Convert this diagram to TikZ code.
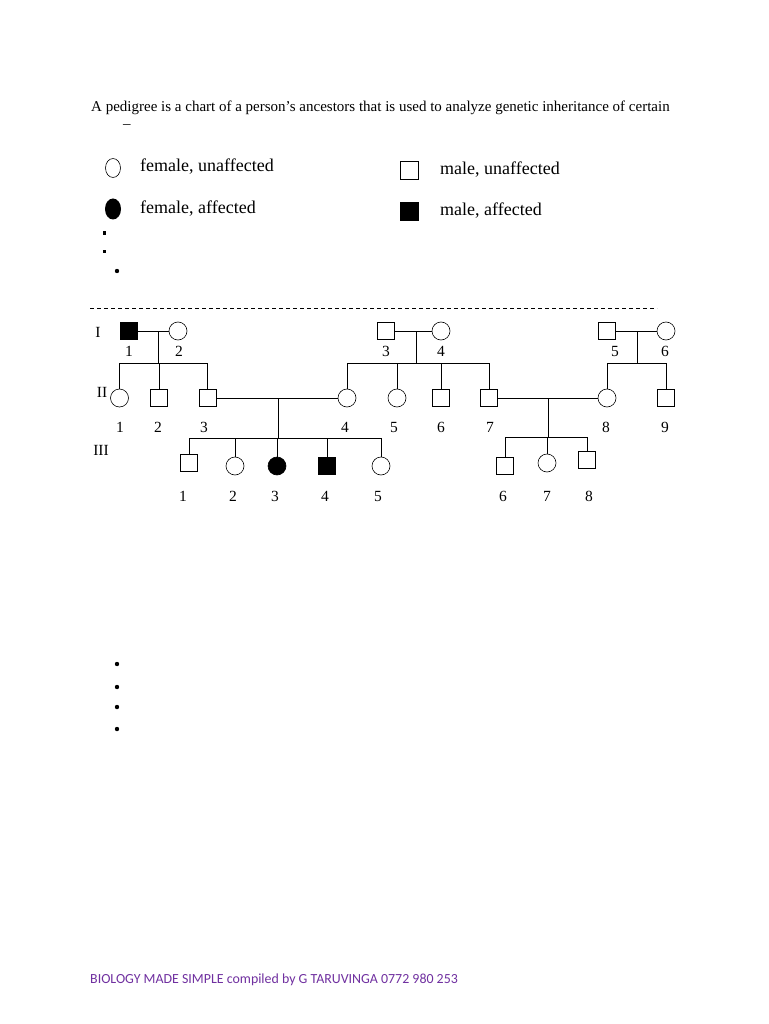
\documentclass[tikz,border=0pt]{standalone}
\usepackage{fontspec}
\usetikzlibrary{shapes.geometric}
\setmainfont{Liberation Serif}
\newfontfamily\footfont{Carlito}
\definecolor{foot}{RGB}{112,48,160}
\begin{document}
\begin{tikzpicture}[x=1pt,y=-1pt,
  male/.style={draw,line width=0.6pt,minimum size=17pt,inner sep=0pt},
  fem/.style={draw,line width=0.6pt,circle,minimum size=18pt,inner sep=0pt},
  aff/.style={fill=black},
  lbl/.style={font=\fontsize{15.5}{15.5}\selectfont,inner sep=0pt},
  txt/.style={font=\fontsize{15}{16}\selectfont,inner sep=0pt,anchor=west},
  leg/.style={font=\fontsize{18}{18}\selectfont,inner sep=0pt,anchor=west},
  ln/.style={line width=0.6pt}]
\useasboundingbox (0,0) rectangle (768,1024);
\fill[white] (0,0) rectangle (768,1024);
\node[txt] (intro) at (91,108) {A pedigree is a chart of a person's ancestors that is used to analyze genetic inheritance of certain};
\node[txt] (dash) at (123,127) {–};
% legend
\node[draw,ellipse,minimum width=15pt,minimum height=19pt,inner sep=0pt,line width=0.6pt] (lf) at (113,168) {};
\node[leg] (lft) at (140,167) {female, unaffected};
\node[fill=black,ellipse,minimum width=16pt,minimum height=21pt,inner sep=0pt] (lfa) at (113,209) {};
\node[leg] (lfat) at (140,209) {female, affected};
\node[male,minimum size=18pt] (lm) at (409,170) {};
\node[leg] (lmt) at (440,170) {male, unaffected};
\node[male,aff,minimum size=18pt] (lma) at (409,211) {};
\node[leg] (lmat) at (440,211) {male, affected};
\fill (102.5,231.5) rectangle (105.5,234.5);
\fill (102.5,249.5) rectangle (105.5,252.5);
\fill (117,271) circle (2.2);
\draw[dashed,dash pattern=on 4pt off 3pt,line width=0.6pt] (90,308) -- (657,308);
% generation labels
\node[lbl] (gI) at (98,332) {I};
\node[lbl] (gII) at (102,392) {II};
\node[lbl] (gIII) at (101,450) {III};
% generation I
\node[male,aff] (i1) at (129,331) {}; \node[lbl] at (129,351) {1};
\node[fem] (i2) at (178,331) {}; \node[lbl] at (179,351) {2};
\node[male] (i3) at (386,331) {}; \node[lbl] at (386,351) {3};
\node[fem] (i4) at (441,331) {}; \node[lbl] at (441,351) {4};
\node[male] (i5) at (607,331) {}; \node[lbl] at (615,351) {5};
\node[fem] (i6) at (666,331) {}; \node[lbl] at (665,351) {6};
% generation II
\node[fem] (ii1) at (119.5,398) {}; \node[lbl] at (120,427) {1};
\node[male] (ii2) at (159,398) {}; \node[lbl] at (158,427) {2};
\node[male] (ii3) at (207.5,398) {}; \node[lbl] at (204,427) {3};
\node[fem] (ii4) at (347,398) {}; \node[lbl] at (345,427) {4};
\node[fem] (ii5) at (397,398) {}; \node[lbl] at (394,427) {5};
\node[male] (ii6) at (441,398) {}; \node[lbl] at (441,427) {6};
\node[male] (ii7) at (489,398) {}; \node[lbl] at (490,427) {7};
\node[fem] (ii8) at (607,398) {}; \node[lbl] at (606,427) {8};
\node[male] (ii9) at (666,398) {}; \node[lbl] at (665,427) {9};
% generation III
\node[male] (iii1) at (189,463) {}; \node[lbl] at (183,496) {1};
\node[fem] (iii2) at (235,466) {}; \node[lbl] at (233,496) {2};
\node[fem,aff] (iii3) at (277,466) {}; \node[lbl] at (275,496) {3};
\node[male,aff] (iii4) at (327,466) {}; \node[lbl] at (325,496) {4};
\node[fem] (iii5) at (381,466) {}; \node[lbl] at (378,496) {5};
\node[male] (iii6) at (505,466) {}; \node[lbl] at (503,496) {6};
\node[fem] (iii7) at (547,463) {}; \node[lbl] at (547,496) {7};
\node[male] (iii8) at (587,460) {}; \node[lbl] at (589,496) {8};
% coordinates
\coordinate (m1) at (158.5,331); \coordinate (s1) at (158.5,363);
\coordinate (m2) at (416,331); \coordinate (s2) at (416,363);
\coordinate (m3) at (637,331); \coordinate (s3) at (637,363);
\coordinate (m4) at (278,398); \coordinate (s4) at (278,438);
\coordinate (m5) at (548,398); \coordinate (s5) at (548,437);
% family 1
\draw[ln] (i1) -- (i2);
\draw[ln] (m1) -- (s1);
\draw[ln] (ii1.north |- s1) -- (ii3.north |- s1);
\foreach \c in {ii1,ii2,ii3} \draw[ln] (\c.north |- s1) -- (\c.north);
% family 2
\draw[ln] (i3) -- (i4);
\draw[ln] (m2) -- (s2);
\draw[ln] (ii4.north |- s2) -- (ii7.north |- s2);
\foreach \c in {ii4,ii5,ii6,ii7} \draw[ln] (\c.north |- s2) -- (\c.north);
% family 3
\draw[ln] (i5) -- (i6);
\draw[ln] (m3) -- (s3);
\draw[ln] (ii8.north |- s3) -- (ii9.north |- s3);
\foreach \c in {ii8,ii9} \draw[ln] (\c.north |- s3) -- (\c.north);
% family 4
\draw[ln] (ii3) -- (ii4);
\draw[ln] (m4) -- (s4);
\draw[ln] (iii1.north |- s4) -- (iii5.north |- s4);
\foreach \c in {iii1,iii2,iii3,iii4,iii5} \draw[ln] (\c.north |- s4) -- (\c.north);
% family 5
\draw[ln] (ii7) -- (ii8);
\draw[ln] (m5) -- (s5);
\draw[ln] (iii6.north |- s5) -- (iii8.north |- s5);
\foreach \c in {iii6,iii7,iii8} \draw[ln] (\c.north |- s5) -- (\c.north);
% bottom bullets
\foreach \y in {664,687,707,729} \fill (117,\y) circle (2.2);
\node[anchor=west,inner sep=0pt,text=foot,font=\footfont\fontsize{13.9}{15}\selectfont] (footer) at (90,980) {BIOLOGY MADE SIMPLE compiled by G TARUVINGA 0772 980 253};
\end{tikzpicture}
\end{document}
